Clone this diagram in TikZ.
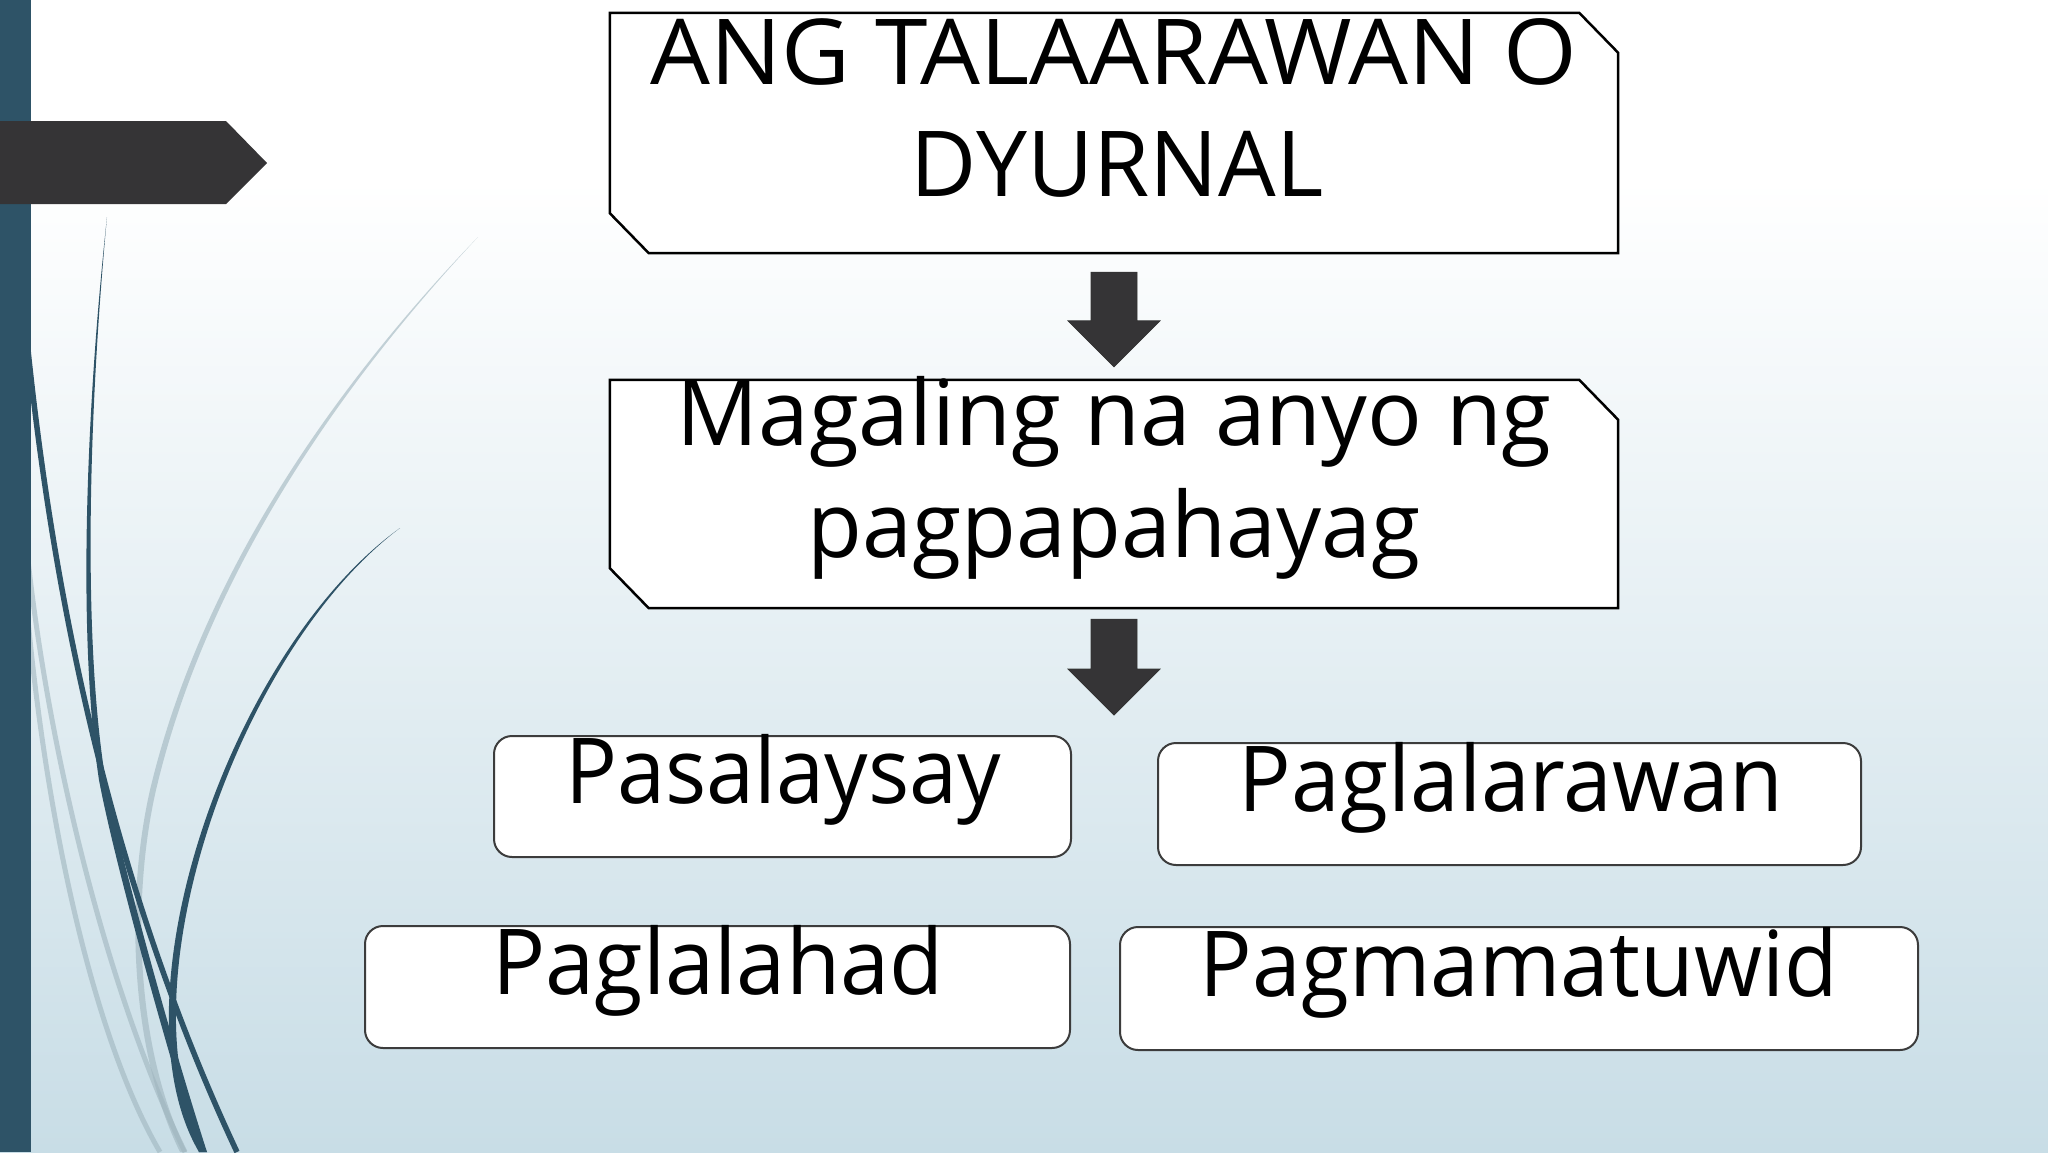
\documentclass[tikz,border=0pt]{standalone}
\usepackage{fontspec}
\setmainfont{Open Sans}
\usetikzlibrary{calc}
\definecolor{barblue}{HTML}{2E5367}
\definecolor{darkarrow}{HTML}{353436}
\definecolor{bgbot}{HTML}{C8DDE6}
\definecolor{swoosh}{HTML}{9FB5BE}
\definecolor{boxline}{HTML}{3C3C3C}
\newcommand\blockarrowpath[2]{%
  \filldraw[barrow] ($(#1)+(-23,0)$) -- ($(#1)+(23,0)$) -- ($(#2)+(23,-46)$) -- ($(#2)+(46,-46)$)
    -- (#2) -- ($(#2)+(-46,-46)$) -- ($(#2)+(-23,-46)$) -- cycle;}
\tikzset{
  chbox/.style={draw=none, minimum width=1008pt, inner sep=0pt},
  chline/.style={draw=black, line width=2.5pt, fill=white, line join=miter},
  rbox/.style={draw=boxline, fill=white, line width=2pt, rounded corners=18pt, inner sep=0pt},
  lbl/.style={anchor=base, inner sep=0pt, font=\fontsize{91}{111}\selectfont},
  barrow/.style={fill=darkarrow, draw=black!80, line width=0.8pt},
  darkswoosh/.style={fill=barblue},
  greyswoosh/.style={draw=swoosh, opacity=0.6, line width=5pt},
  greyfill/.style={fill=swoosh, opacity=0.6},
}
\begin{document}
\begin{tikzpicture}[x=1pt,y=-1pt]
\useasboundingbox (0,0) rectangle (2048,1152);
% background
\fill[white] (0,0) rectangle (2048,1152);
\shade[top color=white, bottom color=bgbot] (0,180) rectangle (2048,1152);
% grey swooshes
\fill[greyfill] (478,237) .. controls (330,390) and (200,580) .. (150,790)
  .. controls (125,900) and (130,1050) .. (180,1152) -- (187,1152)
  .. controls (136,1050) and (131,900) .. (156,790)
  .. controls (205,582) and (333,392) .. (478,237) -- cycle;
\draw[greyswoosh] (28,560) .. controls (50,760) and (110,1000) .. (185,1152);
\draw[greyswoosh] (28,620) .. controls (50,850) and (100,1050) .. (160,1152);
% dark swooshes
\draw[barblue, line width=5.5pt] (28,350) .. controls (50,560) and (100,860) .. (237,1152);
\fill[darkswoosh] (107,217) .. controls (85,420) and (78,640) .. (99,780)
  .. controls (114,860) and (164,1040) .. (199,1152) -- (207,1152)
  .. controls (171,1040) and (121,860) .. (105.5,780)
  .. controls (83,640) and (88,420) .. (107,217) -- cycle;
\fill[darkswoosh] (400,528) .. controls (230,650) and (110,1000) .. (199,1152) -- (207,1152)
  .. controls (117,1000) and (235,652) .. (400,528) -- cycle;
% left bar and tab
\fill[barblue] (0,0) rectangle (31,1152);
\fill[darkarrow] (0,121) -- (226,121) -- (267,163) -- (226,204) -- (0,204) -- cycle;
% chamfered boxes
\node[chbox, minimum height=240pt] (b1) at (1114,133) {};
\node[chbox, minimum height=228pt] (b2) at (1114,494) {};
\foreach \b in {b1,b2}{
  \path[chline] (\b.north west) -- ([xshift=-39pt]\b.north east) -- ([yshift=-40pt]\b.north east)
    -- (\b.south east) -- ([xshift=39pt]\b.south west) -- ([yshift=40pt]\b.south west) -- cycle;
}
% rounded boxes
\node[rbox, minimum width=577pt, minimum height=121pt] (r1) at (782.5,796.5) {};
\node[rbox, minimum width=703pt, minimum height=122pt] (r2) at (1509.5,804) {};
\node[rbox, minimum width=705pt, minimum height=122pt] (r3) at (717.5,987) {};
\node[rbox, minimum width=798pt, minimum height=123pt] (r4) at (1519,988.5) {};
% block arrows
\coordinate (a1s) at ($(b1.south)+(0,19)$);
\coordinate (a1e) at ($(b2.north)+(0,-13)$);
\coordinate (a2s) at ($(b2.south)+(0,11)$);
\coordinate (a2e) at (1114,715);
\blockarrowpath{a1s}{a1e}
\blockarrowpath{a2s}{a2e}
% texts
\node[lbl] (t1a) at (1114,84) {\scalebox{1.04}[1]{ANG TALAARAWAN O}};
\node[lbl] (t1b) at (1117,196) {DYURNAL};
\node[lbl] (t2a) at (1114,445) {Magaling na anyo ng};
\node[lbl] (t2b) at (1114,557) {\scalebox{0.985}[1]{pagpapahayag}};
\node[lbl] (t3) at (783,803) {\scalebox{0.95}[1]{Pasalaysay}};
\node[lbl] (t4) at (1511,811) {\scalebox{0.963}[1]{Paglalarawan}};
\node[lbl] (t5) at (718,994) {\scalebox{0.972}[1]{Paglalahad}};
\node[lbl] (t6) at (1519,996) {\scalebox{0.962}[1]{Pagmamatuwid}};
\end{tikzpicture}
\end{document}
